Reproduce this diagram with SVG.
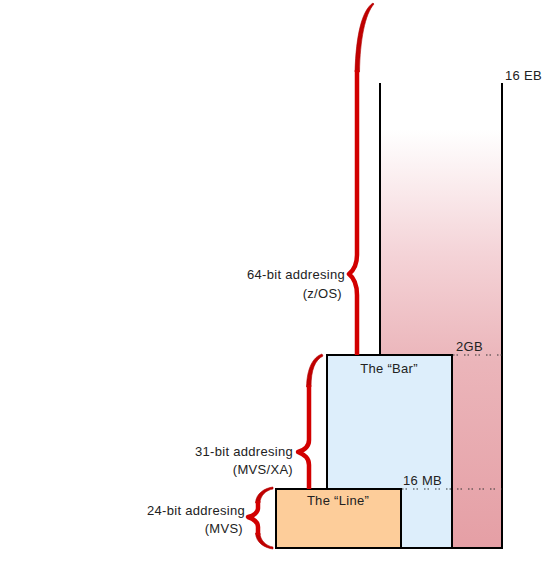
<svg xmlns="http://www.w3.org/2000/svg" width="560" height="576" viewBox="0 0 560 576">
<style>
text{font-family:"Liberation Sans",Arial,sans-serif;font-size:13px;letter-spacing:0.3px;fill:#222}
.r{text-anchor:end}
.m{text-anchor:middle}
.brace{fill:none;stroke:#d20000;stroke-width:4.5;stroke-linejoin:round}
.tip{fill:#c00000;stroke:#b00000;stroke-width:0.6}
.dot{stroke:#333;stroke-width:1.2;stroke-dasharray:1.5 2 1.5 6;fill:none}
.box{stroke:#000;stroke-width:2}
</style>
<defs>
<linearGradient id="pink" x1="0" y1="83" x2="0" y2="548" gradientUnits="userSpaceOnUse">
<stop offset="0" stop-color="#ffffff"/>
<stop offset="0.1" stop-color="#ffffff"/>
<stop offset="0.37" stop-color="#f4d3d7"/>
<stop offset="0.6" stop-color="#ebb5ba"/>
<stop offset="1" stop-color="#e59fa5"/>
</linearGradient>
</defs>
<rect width="560" height="576" fill="#fff"/>
<g id="column64">
<rect x="380" y="83" width="122" height="465" fill="url(#pink)"/>
<path d="M380 83V548H502V83" fill="none" stroke="#000" stroke-width="2"/>
<text x="505" y="80">16 EB</text>
</g>
<g id="bar">
<rect class="box" x="327" y="355" width="125" height="193" fill="#ddeefb"/>
<text class="m" x="389" y="373">The “Bar”</text>
</g>
<g id="line">
<rect class="box" x="276" y="489" width="125" height="59" fill="#fdcd9a"/>
<text class="m" x="338" y="505">The “Line”</text>
</g>
<g id="connectors">
<path class="dot" d="M453 355H502"/>
<path class="dot" d="M402 489H502"/>
</g>
<g id="labels">
<text x="456" y="351">2GB</text>
<text x="403" y="485">16 MB</text>
</g>
<g id="brace64">
<path class="tip" d="M373 3C362 10 356 35 355 72L359.5 72C360 40 365 14 374 4Z"/>
<path class="brace" d="M357 70V255C357 265 354 270 349 274C354 278 357 284 357 295V355"/>
<text class="r" x="345" y="279">64-bit addresing</text>
<text class="r" x="342" y="298">(z/OS)</text>
</g>
<g id="brace31">
<path class="tip" d="M322 354C313 357 307 368 306.5 387L311 387C311 370 315 360 323 356Z"/>
<path class="brace" d="M309 385V440C309 446 305 450 298 452C305 455 309 458 309 465V489"/>
<text class="r" x="293" y="456">31-bit addresing</text>
<text class="r" x="293" y="474">(MVS/XA)</text>
</g>
<g id="brace24">
<path class="tip" d="M273 487C265 488 256 493 255.5 503L260 503C260 496 266 490 273 489Z"/>
<path class="tip" d="M273 549C265 548 256 543 255.5 533L260 533C260 540 266 546 273 547Z"/>
<path class="brace" d="M258 501V508C258 512 254 516 248 517C254 519 258 522 258 527V535"/>
<text class="r" x="245" y="515">24-bit addresing</text>
<text class="r" x="243" y="533">(MVS)</text>
</g>
</svg>
